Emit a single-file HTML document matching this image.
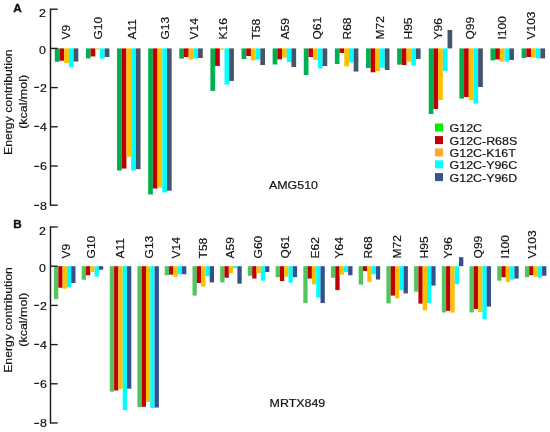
<!DOCTYPE html>
<html><head><meta charset="utf-8"><title>Energy contribution</title>
<style>
html,body{margin:0;padding:0;background:#fff;}
svg{display:block;}
text{font-family:"Liberation Sans", Arial, Helvetica, sans-serif;font-size:11.1px;fill:#111;stroke:#111;stroke-width:0.18px;}
</style></head>
<body>
<svg width="550" height="432" viewBox="0 0 550 432">
<rect width="550" height="432" fill="#ffffff"/>
<g id="panelA">
<rect x="54.80" y="48.40" width="4.70" height="13.33" fill="#00b050"/>
<rect x="59.50" y="48.40" width="4.70" height="12.35" fill="#c00000"/>
<rect x="64.20" y="48.40" width="4.70" height="14.70" fill="#ffc000"/>
<rect x="68.90" y="48.40" width="4.70" height="18.82" fill="#00ffff"/>
<rect x="73.60" y="48.40" width="4.70" height="13.13" fill="#44546a"/>
<rect x="85.92" y="48.40" width="4.70" height="10.00" fill="#00b050"/>
<rect x="90.62" y="48.40" width="4.70" height="8.04" fill="#c00000"/>
<rect x="95.32" y="48.40" width="4.70" height="1.18" fill="#ffc000"/>
<rect x="100.02" y="48.40" width="4.70" height="10.19" fill="#00ffff"/>
<rect x="104.72" y="48.40" width="4.70" height="8.62" fill="#44546a"/>
<rect x="117.04" y="48.40" width="4.70" height="122.11" fill="#00b050"/>
<rect x="121.74" y="48.40" width="4.70" height="120.15" fill="#c00000"/>
<rect x="126.44" y="48.40" width="4.70" height="108.39" fill="#ffc000"/>
<rect x="131.14" y="48.40" width="4.70" height="122.11" fill="#00ffff"/>
<rect x="135.84" y="48.40" width="4.70" height="120.74" fill="#44546a"/>
<rect x="148.16" y="48.40" width="4.70" height="146.02" fill="#00b050"/>
<rect x="152.86" y="48.40" width="4.70" height="140.14" fill="#c00000"/>
<rect x="157.56" y="48.40" width="4.70" height="139.16" fill="#ffc000"/>
<rect x="162.26" y="48.40" width="4.70" height="144.06" fill="#00ffff"/>
<rect x="166.96" y="48.40" width="4.70" height="142.30" fill="#44546a"/>
<rect x="179.28" y="48.40" width="4.70" height="10.19" fill="#00b050"/>
<rect x="183.98" y="48.40" width="4.70" height="8.62" fill="#c00000"/>
<rect x="188.68" y="48.40" width="4.70" height="11.17" fill="#ffc000"/>
<rect x="193.38" y="48.40" width="4.70" height="10.00" fill="#00ffff"/>
<rect x="198.08" y="48.40" width="4.70" height="9.60" fill="#44546a"/>
<rect x="210.40" y="48.40" width="4.70" height="42.53" fill="#00b050"/>
<rect x="215.10" y="48.40" width="4.70" height="17.64" fill="#c00000"/>
<rect x="219.80" y="48.40" width="4.70" height="1.18" fill="#ffc000"/>
<rect x="224.50" y="48.40" width="4.70" height="36.06" fill="#00ffff"/>
<rect x="229.20" y="48.40" width="4.70" height="32.54" fill="#44546a"/>
<rect x="241.52" y="48.40" width="4.70" height="10.58" fill="#00b050"/>
<rect x="246.22" y="48.40" width="4.70" height="7.64" fill="#c00000"/>
<rect x="250.92" y="48.40" width="4.70" height="11.96" fill="#ffc000"/>
<rect x="255.62" y="48.40" width="4.70" height="11.17" fill="#00ffff"/>
<rect x="260.32" y="48.40" width="4.70" height="16.66" fill="#44546a"/>
<rect x="272.64" y="48.40" width="4.70" height="16.07" fill="#00b050"/>
<rect x="277.34" y="48.40" width="4.70" height="10.98" fill="#c00000"/>
<rect x="282.04" y="48.40" width="4.70" height="9.21" fill="#ffc000"/>
<rect x="286.74" y="48.40" width="4.70" height="13.52" fill="#00ffff"/>
<rect x="291.44" y="48.40" width="4.70" height="18.62" fill="#44546a"/>
<rect x="303.76" y="48.40" width="4.70" height="26.66" fill="#00b050"/>
<rect x="308.46" y="48.40" width="4.70" height="8.62" fill="#c00000"/>
<rect x="313.16" y="48.40" width="4.70" height="11.56" fill="#ffc000"/>
<rect x="317.86" y="48.40" width="4.70" height="19.99" fill="#00ffff"/>
<rect x="322.56" y="48.40" width="4.70" height="17.64" fill="#44546a"/>
<rect x="334.88" y="48.40" width="4.70" height="15.68" fill="#00b050"/>
<rect x="339.58" y="48.40" width="4.70" height="4.51" fill="#c00000"/>
<rect x="344.28" y="48.40" width="4.70" height="18.03" fill="#ffc000"/>
<rect x="348.98" y="48.40" width="4.70" height="13.92" fill="#00ffff"/>
<rect x="353.68" y="48.40" width="4.70" height="23.13" fill="#44546a"/>
<rect x="366.00" y="48.40" width="4.70" height="19.60" fill="#00b050"/>
<rect x="370.70" y="48.40" width="4.70" height="23.91" fill="#c00000"/>
<rect x="375.40" y="48.40" width="4.70" height="22.54" fill="#ffc000"/>
<rect x="380.10" y="48.40" width="4.70" height="19.21" fill="#00ffff"/>
<rect x="384.80" y="48.40" width="4.70" height="21.56" fill="#44546a"/>
<rect x="397.12" y="48.40" width="4.70" height="16.27" fill="#00b050"/>
<rect x="401.82" y="48.40" width="4.70" height="16.66" fill="#c00000"/>
<rect x="406.52" y="48.40" width="4.70" height="13.52" fill="#ffc000"/>
<rect x="411.22" y="48.40" width="4.70" height="17.05" fill="#00ffff"/>
<rect x="415.92" y="48.40" width="4.70" height="10.58" fill="#44546a"/>
<rect x="428.74" y="48.40" width="4.70" height="65.66" fill="#00b050"/>
<rect x="433.44" y="48.40" width="4.70" height="60.56" fill="#c00000"/>
<rect x="438.14" y="48.40" width="4.70" height="51.55" fill="#ffc000"/>
<rect x="442.84" y="48.40" width="4.70" height="22.54" fill="#00ffff"/>
<rect x="447.54" y="29.98" width="4.70" height="18.42" fill="#44546a"/>
<rect x="459.36" y="48.40" width="4.70" height="50.18" fill="#00b050"/>
<rect x="464.06" y="48.40" width="4.70" height="48.61" fill="#c00000"/>
<rect x="468.76" y="48.40" width="4.70" height="51.94" fill="#ffc000"/>
<rect x="473.46" y="48.40" width="4.70" height="55.27" fill="#00ffff"/>
<rect x="478.16" y="48.40" width="4.70" height="38.61" fill="#44546a"/>
<rect x="490.48" y="48.40" width="4.70" height="11.96" fill="#00b050"/>
<rect x="495.18" y="48.40" width="4.70" height="10.98" fill="#c00000"/>
<rect x="499.88" y="48.40" width="4.70" height="13.13" fill="#ffc000"/>
<rect x="504.58" y="48.40" width="4.70" height="13.13" fill="#00ffff"/>
<rect x="509.28" y="48.40" width="4.70" height="11.56" fill="#44546a"/>
<rect x="521.60" y="48.40" width="4.70" height="9.60" fill="#00b050"/>
<rect x="526.30" y="48.40" width="4.70" height="8.62" fill="#c00000"/>
<rect x="531.00" y="48.40" width="4.70" height="9.21" fill="#ffc000"/>
<rect x="535.70" y="48.40" width="4.70" height="10.00" fill="#00ffff"/>
<rect x="540.40" y="48.40" width="4.70" height="10.00" fill="#44546a"/>
<line x1="50.5" y1="8.60" x2="50.5" y2="205.80" stroke="#1a1a1a" stroke-width="1.45"/>
<line x1="50.5" y1="9.20" x2="57.70" y2="9.20" stroke="#1a1a1a" stroke-width="1.35"/>
<text transform="translate(45.80,17.20) scale(1.12,1)" text-anchor="end">2</text>
<line x1="50.5" y1="48.40" x2="57.70" y2="48.40" stroke="#1a1a1a" stroke-width="1.35"/>
<text transform="translate(45.80,54.00) scale(1.12,1)" text-anchor="end">0</text>
<line x1="50.5" y1="87.60" x2="57.70" y2="87.60" stroke="#1a1a1a" stroke-width="1.35"/>
<text transform="translate(34.0,91.20) scale(0.83,1)" style="stroke-width:0.45px">−</text>
<text transform="translate(46.80,92.00) scale(1.12,1)" text-anchor="end">2</text>
<line x1="50.5" y1="126.80" x2="57.70" y2="126.80" stroke="#1a1a1a" stroke-width="1.35"/>
<text transform="translate(34.0,130.40) scale(0.83,1)" style="stroke-width:0.45px">−</text>
<text transform="translate(46.80,131.20) scale(1.12,1)" text-anchor="end">4</text>
<line x1="50.5" y1="166.00" x2="57.70" y2="166.00" stroke="#1a1a1a" stroke-width="1.35"/>
<text transform="translate(34.0,169.60) scale(0.83,1)" style="stroke-width:0.45px">−</text>
<text transform="translate(46.80,170.40) scale(1.12,1)" text-anchor="end">6</text>
<line x1="50.5" y1="205.20" x2="57.70" y2="205.20" stroke="#1a1a1a" stroke-width="1.35"/>
<text transform="translate(34.0,208.80) scale(0.83,1)" style="stroke-width:0.45px">−</text>
<text transform="translate(46.80,209.60) scale(1.12,1)" text-anchor="end">8</text>
<text transform="translate(70.20,39.50) rotate(-90) scale(1.02,1)" style="font-size:11.75px">V9</text>
<text transform="translate(101.50,39.50) rotate(-90) scale(1.02,1)" style="font-size:11.75px">G10</text>
<text transform="translate(136.00,39.50) rotate(-90) scale(1.02,1)" style="font-size:11.75px">A11</text>
<text transform="translate(168.50,39.50) rotate(-90) scale(1.02,1)" style="font-size:11.75px">G13</text>
<text transform="translate(198.20,39.50) rotate(-90) scale(1.02,1)" style="font-size:11.75px">V14</text>
<text transform="translate(227.40,39.50) rotate(-90) scale(1.02,1)" style="font-size:11.75px">K16</text>
<text transform="translate(259.90,39.50) rotate(-90) scale(1.02,1)" style="font-size:11.75px">T58</text>
<text transform="translate(288.50,39.50) rotate(-90) scale(1.02,1)" style="font-size:11.75px">A59</text>
<text transform="translate(320.70,39.50) rotate(-90) scale(1.02,1)" style="font-size:11.75px">Q61</text>
<text transform="translate(350.50,39.50) rotate(-90) scale(1.02,1)" style="font-size:11.75px">R68</text>
<text transform="translate(384.40,39.50) rotate(-90) scale(1.02,1)" style="font-size:11.75px">M72</text>
<text transform="translate(412.00,39.50) rotate(-90) scale(1.02,1)" style="font-size:11.75px">H95</text>
<text transform="translate(442.40,39.50) rotate(-90) scale(1.02,1)" style="font-size:11.75px">Y96</text>
<text transform="translate(474.20,39.50) rotate(-90) scale(1.02,1)" style="font-size:11.75px">Q99</text>
<text transform="translate(506.40,39.50) rotate(-90) scale(1.02,1)" style="font-size:11.75px">I100</text>
<text transform="translate(534.60,39.50) rotate(-90) scale(1.02,1)" style="font-size:11.75px">V103</text>
<text transform="translate(13.30,12.20) scale(1.06,1)" style="font-weight:700;stroke-width:0.35px">A</text>
<text transform="translate(269.00,189.20) scale(1.12,1)">AMG510</text>
<text transform="translate(11.90,102.20) rotate(-90) scale(1.045,1)" text-anchor="middle" style="font-size:11.75px">Energy contribution</text>
<text transform="translate(27.20,101.90) rotate(-90) scale(1.06,1)" text-anchor="middle" style="font-size:11.75px">(kcal/mol)</text>
</g>
<g id="legend">
<rect x="435.0" y="123.50" width="8" height="8" fill="#00f000"/>
<text transform="translate(449.60,131.90) scale(1.12,1)">G12C</text>
<rect x="435.0" y="136.10" width="8" height="8" fill="#c00000"/>
<text transform="translate(449.60,144.50) scale(1.12,1)">G12C-R68S</text>
<rect x="435.0" y="148.40" width="8" height="8" fill="#ffa630"/>
<text transform="translate(449.60,156.80) scale(1.12,1)">G12C-K16T</text>
<rect x="435.0" y="160.30" width="8" height="8" fill="#00ffff"/>
<text transform="translate(449.60,168.70) scale(1.12,1)">G12C-Y96C</text>
<rect x="435.0" y="173.10" width="8" height="8" fill="#3b5490"/>
<text transform="translate(449.60,181.50) scale(1.12,1)">G12C-Y96D</text>
</g>
<g id="panelB">
<rect x="54.00" y="266.20" width="4.30" height="32.93" fill="#54c45e"/>
<rect x="58.30" y="266.20" width="4.30" height="21.56" fill="#c00000"/>
<rect x="62.60" y="266.20" width="4.30" height="22.54" fill="#ffc000"/>
<rect x="66.90" y="266.20" width="4.30" height="20.97" fill="#00ffff"/>
<rect x="71.20" y="266.20" width="4.30" height="16.86" fill="#34508e"/>
<rect x="81.70" y="266.20" width="4.30" height="13.52" fill="#54c45e"/>
<rect x="86.00" y="266.20" width="4.30" height="9.02" fill="#c00000"/>
<rect x="90.30" y="266.20" width="4.30" height="5.88" fill="#ffc000"/>
<rect x="94.60" y="266.20" width="4.30" height="10.39" fill="#00ffff"/>
<rect x="98.90" y="266.20" width="4.30" height="3.53" fill="#34508e"/>
<rect x="109.80" y="266.20" width="4.30" height="125.44" fill="#54c45e"/>
<rect x="114.10" y="266.20" width="4.30" height="124.26" fill="#c00000"/>
<rect x="118.40" y="266.20" width="4.30" height="122.89" fill="#ffc000"/>
<rect x="122.70" y="266.20" width="4.30" height="143.86" fill="#00ffff"/>
<rect x="127.00" y="266.20" width="4.30" height="122.50" fill="#34508e"/>
<rect x="137.40" y="266.20" width="4.30" height="140.92" fill="#54c45e"/>
<rect x="141.70" y="266.20" width="4.30" height="140.53" fill="#c00000"/>
<rect x="146.00" y="266.20" width="4.30" height="135.83" fill="#ffc000"/>
<rect x="150.30" y="266.20" width="4.30" height="141.90" fill="#00ffff"/>
<rect x="154.60" y="266.20" width="4.30" height="141.32" fill="#34508e"/>
<rect x="164.80" y="266.20" width="4.30" height="9.02" fill="#54c45e"/>
<rect x="169.10" y="266.20" width="4.30" height="8.43" fill="#c00000"/>
<rect x="173.40" y="266.20" width="4.30" height="10.58" fill="#ffc000"/>
<rect x="177.70" y="266.20" width="4.30" height="8.04" fill="#00ffff"/>
<rect x="182.00" y="266.20" width="4.30" height="8.04" fill="#34508e"/>
<rect x="192.50" y="266.20" width="4.30" height="29.40" fill="#54c45e"/>
<rect x="196.80" y="266.20" width="4.30" height="16.86" fill="#c00000"/>
<rect x="201.10" y="266.20" width="4.30" height="20.38" fill="#ffc000"/>
<rect x="205.40" y="266.20" width="4.30" height="10.00" fill="#00ffff"/>
<rect x="209.70" y="266.20" width="4.30" height="16.27" fill="#34508e"/>
<rect x="220.20" y="266.20" width="4.30" height="16.27" fill="#54c45e"/>
<rect x="224.50" y="266.20" width="4.30" height="11.56" fill="#c00000"/>
<rect x="228.80" y="266.20" width="4.30" height="7.06" fill="#ffc000"/>
<rect x="233.10" y="266.20" width="4.30" height="1.96" fill="#00ffff"/>
<rect x="237.40" y="266.20" width="4.30" height="17.44" fill="#34508e"/>
<rect x="247.90" y="266.20" width="4.30" height="9.60" fill="#54c45e"/>
<rect x="252.20" y="266.20" width="4.30" height="12.35" fill="#c00000"/>
<rect x="256.50" y="266.20" width="4.30" height="7.06" fill="#ffc000"/>
<rect x="260.80" y="266.20" width="4.30" height="14.50" fill="#00ffff"/>
<rect x="265.10" y="266.20" width="4.30" height="5.88" fill="#34508e"/>
<rect x="275.60" y="266.20" width="4.30" height="10.98" fill="#54c45e"/>
<rect x="279.90" y="266.20" width="4.30" height="14.90" fill="#c00000"/>
<rect x="284.20" y="266.20" width="4.30" height="10.58" fill="#ffc000"/>
<rect x="288.50" y="266.20" width="4.30" height="16.46" fill="#00ffff"/>
<rect x="292.80" y="266.20" width="4.30" height="10.98" fill="#34508e"/>
<rect x="303.30" y="266.20" width="4.30" height="36.85" fill="#54c45e"/>
<rect x="307.60" y="266.20" width="4.30" height="12.35" fill="#c00000"/>
<rect x="311.90" y="266.20" width="4.30" height="18.23" fill="#ffc000"/>
<rect x="316.20" y="266.20" width="4.30" height="31.36" fill="#00ffff"/>
<rect x="320.50" y="266.20" width="4.30" height="36.85" fill="#34508e"/>
<rect x="331.00" y="266.20" width="4.30" height="11.56" fill="#54c45e"/>
<rect x="335.30" y="266.20" width="4.30" height="23.91" fill="#c00000"/>
<rect x="339.60" y="266.20" width="4.30" height="8.43" fill="#ffc000"/>
<rect x="343.90" y="266.20" width="4.30" height="5.88" fill="#00ffff"/>
<rect x="348.20" y="266.20" width="4.30" height="9.02" fill="#34508e"/>
<rect x="358.70" y="266.20" width="4.30" height="18.42" fill="#54c45e"/>
<rect x="363.00" y="266.20" width="4.30" height="4.90" fill="#c00000"/>
<rect x="367.30" y="266.20" width="4.30" height="15.88" fill="#ffc000"/>
<rect x="371.60" y="266.20" width="4.30" height="8.04" fill="#00ffff"/>
<rect x="375.90" y="266.20" width="4.30" height="13.33" fill="#34508e"/>
<rect x="386.40" y="266.20" width="4.30" height="37.24" fill="#54c45e"/>
<rect x="390.70" y="266.20" width="4.30" height="29.40" fill="#c00000"/>
<rect x="395.00" y="266.20" width="4.30" height="32.14" fill="#ffc000"/>
<rect x="399.30" y="266.20" width="4.30" height="23.91" fill="#00ffff"/>
<rect x="403.60" y="266.20" width="4.30" height="27.24" fill="#34508e"/>
<rect x="414.10" y="266.20" width="4.30" height="25.48" fill="#54c45e"/>
<rect x="418.40" y="266.20" width="4.30" height="37.44" fill="#c00000"/>
<rect x="422.70" y="266.20" width="4.30" height="44.10" fill="#ffc000"/>
<rect x="427.00" y="266.20" width="4.30" height="36.85" fill="#00ffff"/>
<rect x="431.30" y="266.20" width="4.30" height="19.40" fill="#34508e"/>
<rect x="441.80" y="266.20" width="4.30" height="46.26" fill="#54c45e"/>
<rect x="446.10" y="266.20" width="4.30" height="44.69" fill="#c00000"/>
<rect x="450.40" y="266.20" width="4.30" height="46.45" fill="#ffc000"/>
<rect x="454.70" y="266.20" width="4.30" height="17.84" fill="#00ffff"/>
<rect x="459.00" y="257.18" width="4.30" height="9.02" fill="#34508e"/>
<rect x="469.50" y="266.20" width="4.30" height="46.26" fill="#54c45e"/>
<rect x="473.80" y="266.20" width="4.30" height="42.73" fill="#c00000"/>
<rect x="478.10" y="266.20" width="4.30" height="45.86" fill="#ffc000"/>
<rect x="482.40" y="266.20" width="4.30" height="52.72" fill="#00ffff"/>
<rect x="486.70" y="266.20" width="4.30" height="40.38" fill="#34508e"/>
<rect x="497.20" y="266.20" width="4.30" height="14.50" fill="#54c45e"/>
<rect x="501.50" y="266.20" width="4.30" height="10.98" fill="#c00000"/>
<rect x="505.80" y="266.20" width="4.30" height="15.88" fill="#ffc000"/>
<rect x="510.10" y="266.20" width="4.30" height="13.52" fill="#00ffff"/>
<rect x="514.40" y="266.20" width="4.30" height="12.35" fill="#34508e"/>
<rect x="524.90" y="266.20" width="4.30" height="10.98" fill="#54c45e"/>
<rect x="529.20" y="266.20" width="4.30" height="9.02" fill="#c00000"/>
<rect x="533.50" y="266.20" width="4.30" height="10.58" fill="#ffc000"/>
<rect x="537.80" y="266.20" width="4.30" height="11.56" fill="#00ffff"/>
<rect x="542.10" y="266.20" width="4.30" height="9.60" fill="#34508e"/>
<line x1="50.5" y1="226.40" x2="50.5" y2="423.60" stroke="#1a1a1a" stroke-width="1.45"/>
<line x1="50.5" y1="227.00" x2="57.70" y2="227.00" stroke="#1a1a1a" stroke-width="1.35"/>
<text transform="translate(45.80,235.00) scale(1.12,1)" text-anchor="end">2</text>
<line x1="50.5" y1="266.20" x2="57.70" y2="266.20" stroke="#1a1a1a" stroke-width="1.35"/>
<text transform="translate(45.80,271.80) scale(1.12,1)" text-anchor="end">0</text>
<line x1="50.5" y1="305.40" x2="57.70" y2="305.40" stroke="#1a1a1a" stroke-width="1.35"/>
<text transform="translate(34.0,309.00) scale(0.83,1)" style="stroke-width:0.45px">−</text>
<text transform="translate(46.80,309.80) scale(1.12,1)" text-anchor="end">2</text>
<line x1="50.5" y1="344.60" x2="57.70" y2="344.60" stroke="#1a1a1a" stroke-width="1.35"/>
<text transform="translate(34.0,348.20) scale(0.83,1)" style="stroke-width:0.45px">−</text>
<text transform="translate(46.80,349.00) scale(1.12,1)" text-anchor="end">4</text>
<line x1="50.5" y1="383.80" x2="57.70" y2="383.80" stroke="#1a1a1a" stroke-width="1.35"/>
<text transform="translate(34.0,387.40) scale(0.83,1)" style="stroke-width:0.45px">−</text>
<text transform="translate(46.80,388.20) scale(1.12,1)" text-anchor="end">6</text>
<line x1="50.5" y1="423.00" x2="57.70" y2="423.00" stroke="#1a1a1a" stroke-width="1.35"/>
<text transform="translate(34.0,426.60) scale(0.83,1)" style="stroke-width:0.45px">−</text>
<text transform="translate(46.80,427.40) scale(1.12,1)" text-anchor="end">8</text>
<text transform="translate(69.90,258.40) rotate(-90) scale(1.02,1)" style="font-size:11.75px">V9</text>
<text transform="translate(94.60,258.40) rotate(-90) scale(1.02,1)" style="font-size:11.75px">G10</text>
<text transform="translate(124.00,258.40) rotate(-90) scale(1.02,1)" style="font-size:11.75px">A11</text>
<text transform="translate(153.20,258.40) rotate(-90) scale(1.02,1)" style="font-size:11.75px">G13</text>
<text transform="translate(180.40,258.40) rotate(-90) scale(1.02,1)" style="font-size:11.75px">V14</text>
<text transform="translate(207.20,258.40) rotate(-90) scale(1.02,1)" style="font-size:11.75px">T58</text>
<text transform="translate(234.00,258.40) rotate(-90) scale(1.02,1)" style="font-size:11.75px">A59</text>
<text transform="translate(261.60,258.40) rotate(-90) scale(1.02,1)" style="font-size:11.75px">G60</text>
<text transform="translate(289.20,258.40) rotate(-90) scale(1.02,1)" style="font-size:11.75px">Q61</text>
<text transform="translate(319.00,258.40) rotate(-90) scale(1.02,1)" style="font-size:11.75px">E62</text>
<text transform="translate(343.40,258.40) rotate(-90) scale(1.02,1)" style="font-size:11.75px">Y64</text>
<text transform="translate(371.70,258.40) rotate(-90) scale(1.02,1)" style="font-size:11.75px">R68</text>
<text transform="translate(401.00,258.40) rotate(-90) scale(1.02,1)" style="font-size:11.75px">M72</text>
<text transform="translate(427.60,258.40) rotate(-90) scale(1.02,1)" style="font-size:11.75px">H95</text>
<text transform="translate(451.70,258.40) rotate(-90) scale(1.02,1)" style="font-size:11.75px">Y96</text>
<text transform="translate(481.90,258.40) rotate(-90) scale(1.02,1)" style="font-size:11.75px">Q99</text>
<text transform="translate(509.30,258.40) rotate(-90) scale(1.02,1)" style="font-size:11.75px">I100</text>
<text transform="translate(536.30,258.40) rotate(-90) scale(1.02,1)" style="font-size:11.75px">V103</text>
<text transform="translate(13.30,228.40) scale(1.06,1)" style="font-weight:700;stroke-width:0.35px">B</text>
<text transform="translate(269.60,407.20) scale(1.12,1)">MRTX849</text>
<text transform="translate(11.90,320.00) rotate(-90) scale(1.045,1)" text-anchor="middle" style="font-size:11.75px">Energy contribution</text>
<text transform="translate(27.20,319.70) rotate(-90) scale(1.06,1)" text-anchor="middle" style="font-size:11.75px">(kcal/mol)</text>
</g>
</svg>
</body></html>
